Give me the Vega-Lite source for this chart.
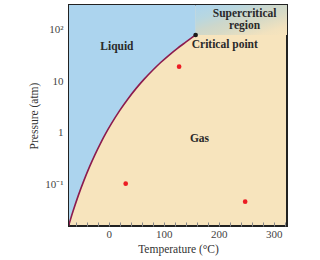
{
  "$schema": "https://vega.github.io/schema/vega-lite/v6.json",
  "autosize": {"type": "none"},
  "width": 218,
  "height": 221,
  "padding": {"left": 69, "top": 5, "right": 33, "bottom": 34},
  "background": "white",
  "config": {
    "view": {"fill": "#f7e4bd", "stroke": "#222222", "strokeWidth": 2},
    "font": "Liberation Serif",
    "axis": {
      "labelFont": "Liberation Serif",
      "titleFont": "Liberation Serif",
      "labelFontSize": 11,
      "titleFontSize": 11.5,
      "labelColor": "#444444",
      "titleColor": "#333333",
      "titleFontWeight": "normal",
      "grid": false,
      "domain": false,
      "tickColor": "#888888",
      "labelOverlap": false,
      "zindex": 1
    }
  },
  "datasets": {
    "curve": [
      {"T": -74, "P": 0.0141},
      {"T": -65, "P": 0.0292},
      {"T": -55, "P": 0.061},
      {"T": -45, "P": 0.118},
      {"T": -35, "P": 0.216},
      {"T": -25, "P": 0.375},
      {"T": -15, "P": 0.621},
      {"T": -5, "P": 0.989},
      {"T": 5, "P": 1.51},
      {"T": 20, "P": 2.71},
      {"T": 35, "P": 4.57},
      {"T": 50, "P": 7.33},
      {"T": 65, "P": 11.2},
      {"T": 80, "P": 16.5},
      {"T": 95, "P": 23.6},
      {"T": 110, "P": 32.6},
      {"T": 125, "P": 44.0},
      {"T": 140, "P": 57.9},
      {"T": 158, "P": 80}
    ],
    "region": [
      {"name": "Supercritical region", "T": 158, "T2": 324, "P": 80, "P2": 306}
    ],
    "points": [
      {"T": 128, "P": 19.4, "kind": "sample"},
      {"T": 31, "P": 0.103, "kind": "sample"},
      {"T": 248, "P": 0.046, "kind": "sample"},
      {"T": 158, "P": 80, "kind": "critical"}
    ],
    "labels": [
      {"T": 15, "P": 47, "text": "Liquid"},
      {"T": 165, "P": 0.755, "text": "Gas"},
      {"T": 211, "P": 51, "text": "Critical point"},
      {"T": 247, "P": 202, "text": "Supercritical"},
      {"T": 247, "P": 120, "text": "region"}
    ]
  },
  "encoding": {
    "x": {
      "field": "T", "type": "quantitative",
      "title": "Temperature (°C)",
      "scale": {"domain": [-72, 324], "nice": false, "zero": false},
      "axis": {
        "values": [-60, -40, -20, 0, 20, 40, 60, 80, 100, 120, 140, 160, 180, 200, 220, 240, 260, 280, 300, 320],
        "labelExpr": "datum.value % 100 == 0 ? datum.label : ''",
        "tickSize": -4,
        "labelPadding": 6,
        "titlePadding": 4
      }
    },
    "y": {
      "field": "P", "type": "quantitative",
      "title": "Pressure (atm)",
      "scale": {"type": "log", "domain": [0.0155, 306], "nice": false},
      "axis": {
        "values": [0.1, 1, 10, 100],
        "labelExpr": "datum.value >= 100 ? '10²' : datum.value >= 10 ? '10' : datum.value >= 1 ? '1' : '10⁻¹'",
        "labelAlign": "right",
        "labelBaseline": "middle",
        "ticks": false,
        "labelPadding": 6,
        "titlePadding": 5
      }
    }
  },
  "layer": [
    {
      "data": {"name": "region"},
      "mark": {
        "type": "rect",
        "color": {
          "gradient": "linear",
          "x1": 0, "y1": 0, "x2": 1, "y2": 1,
          "stops": [
            {"offset": 0, "color": "#acd4ee"},
            {"offset": 0.25, "color": "#b8d7e0"},
            {"offset": 0.45, "color": "#cdd7cb"},
            {"offset": 0.6, "color": "#d7dac6"},
            {"offset": 0.85, "color": "#f2e2be"},
            {"offset": 1, "color": "#f7e4bd"}
          ]
        }
      },
      "encoding": {
        "x2": {"field": "T2"},
        "y2": {"field": "P2"}
      }
    },
    {
      "data": {"name": "curve"},
      "mark": {"type": "area", "color": "#acd4ee", "interpolate": "monotone", "clip": true},
      "encoding": {
        "y2": {"datum": 306}
      }
    },
    {
      "data": {"name": "curve"},
      "mark": {"type": "line", "color": "#8c1b4d", "strokeWidth": 1.6, "interpolate": "monotone", "clip": true},
      "encoding": {}
    },
    {
      "data": {"name": "points"},
      "mark": {"type": "point", "filled": true, "opacity": 1, "size": 22},
      "encoding": {
        "color": {
          "field": "kind", "type": "nominal",
          "scale": {"domain": ["sample", "critical"], "range": ["#ec1c24", "#1a1a1a"]},
          "legend": null
        }
      }
    },
    {
      "data": {"name": "labels"},
      "mark": {"type": "text", "font": "Liberation Serif", "fontSize": 11.5, "fontWeight": "bold", "color": "#2a2a2a"},
      "encoding": {
        "text": {"field": "text"}
      }
    }
  ]
}
